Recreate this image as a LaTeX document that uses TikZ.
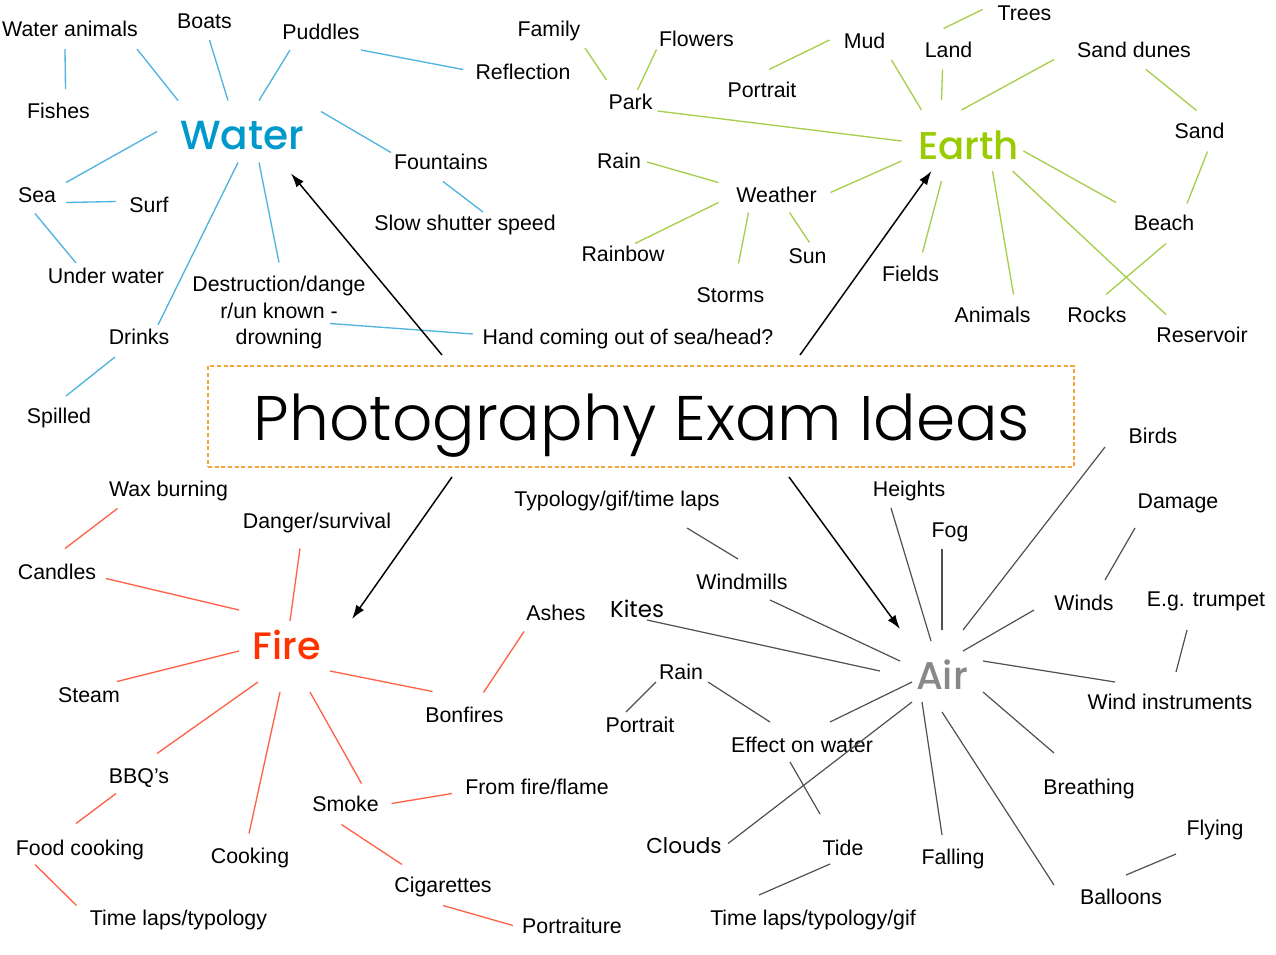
\documentclass[tikz,border=0pt]{standalone}
\usepackage{fontspec}
\setmainfont{Liberation Sans}
\newfontfamily\gothic{Poppins}
\IfFontExistsTF{Poppins Medium}{\newfontfamily\gothicm{Poppins Medium}}{\newfontfamily\gothicm{Poppins}[FakeBold=1.2]}
\IfFontExistsTF{Poppins Light}{\newfontfamily\gothiclight{Poppins Light}}{%
  \IfFontExistsTF{Poppins ExtraLight}{\newfontfamily\gothiclight{Poppins ExtraLight}}{%
    \IfFontExistsTF{Poppins Thin}{\newfontfamily\gothiclight{Poppins Thin}}{\newfontfamily\gothiclight{Poppins}}}}
\usetikzlibrary{arrows.meta}
\definecolor{waterc}{HTML}{0099CC}
\definecolor{wline}{HTML}{4FB4DE}
\definecolor{earthc}{HTML}{99CC00}
\definecolor{eline}{HTML}{A5CF4C}
\definecolor{firec}{HTML}{FF3300}
\definecolor{fline}{HTML}{FF6347}
\definecolor{airc}{HTML}{888888}
\definecolor{aline}{HTML}{505050}
\definecolor{boxc}{HTML}{F4A53A}
\newcommand\lk[5]{\draw[#1] ([shift={(#3)}]#2.center) -- ([shift={(#5)}]#4.center);}
\tikzset{
  lab/.style={font=\fontsize{16pt}{19.9pt}\selectfont, inner sep=0pt, text height=11.5pt, text depth=0pt},
  mlab/.style={font=\fontsize{16pt}{19.9pt}\selectfont, inner sep=0pt, align=center},
  big/.style={inner sep=0pt, text height=23.5pt, text depth=0pt},
  goth/.style={inner sep=0pt, text height=12.5pt, text depth=0pt},
  wl/.style={draw=wline, line width=1pt},
  el/.style={draw=eline, line width=1pt},
  fl/.style={draw=fline, line width=1pt},
  al/.style={draw=aline, line width=0.9pt},
  arr/.style={-{Latex[length=10.5pt,width=7pt]}, line width=1.1pt, draw=black},
  tbox/.style={draw=boxc, dash pattern=on 3pt off 2pt, line width=1.1pt, minimum width=649.5pt, minimum height=75.75pt, inner sep=0pt}
}
\begin{document}
\begin{tikzpicture}[x=0.75pt,y=-0.75pt]
\fill[white] (0,0) rectangle (1276,954);
\useasboundingbox (0,0) rectangle (1276,954);

% title
\node[tbox] (title) at (641,416.5) {};
\node[inner sep=0pt, text height=34.5pt, text depth=0pt] (ttext) at (642,417) {\resizebox{582pt}{!}{\gothiclight Photography Exam Ideas}};

% element words
\node[big, text=waterc] (water) at (242,133.5) {\resizebox{93pt}{!}{\gothicm Water}};
\node[big, text=earthc] (earth) at (968.5,144) {\resizebox{75.75pt}{!}{\gothicm Earth}};
\node[big, text=firec] (fire) at (287,644) {\resizebox{51pt}{!}{\gothicm Fire}};
\node[big, text=airc] (air) at (942,674) {\resizebox{39pt}{!}{\gothicm Air}};

% water labels
\node[lab] (wanim) at (70,29) {Water animals};
\node[lab] (boats) at (204.5,21) {Boats};
\node[lab] (puddles) at (321,32) {Puddles};
\node[lab] (family) at (549,29) {Family};
\node[lab] (reflection) at (523,71.5) {Reflection};
\node[lab] (fishes) at (58.5,111) {Fishes};
\node[lab] (fountains) at (441,161.5) {Fountains};
\node[lab] (sea) at (37,194.5) {Sea};
\node[lab] (surf) at (149,204.5) {Surf};
\node[lab] (slow) at (465,223) {Slow shutter speed};
\node[lab] (underw) at (106,276) {Under water};
\node[mlab] (destr) at (279,312.5) {Destruction/dange\\r/un known -\\drowning};
\node[lab] (drinks) at (139,337) {Drinks};
\node[lab] (hand) at (628,337) {Hand coming out of sea/head?};
\node[lab] (spilled) at (59,416) {Spilled};

% earth labels
\node[lab] (trees) at (1024.5,12.5) {Trees};
\node[lab] (flowers) at (696.5,38.5) {Flowers};
\node[lab] (mud) at (864.5,41) {Mud};
\node[lab] (land) at (948.5,49.5) {Land};
\node[lab] (sanddunes) at (1134,49.5) {Sand dunes};
\node[lab] (portraite) at (762,89.5) {Portrait};
\node[lab] (park) at (630.5,102) {Park};
\node[lab] (sand) at (1199.5,130.5) {Sand};
\node[lab] (raine) at (619,161) {Rain};
\node[lab] (weather) at (776.5,194.5) {Weather};
\node[lab] (beach) at (1164,222.5) {Beach};
\node[lab] (rainbow) at (623,253.5) {Rainbow};
\node[lab] (sun) at (807.5,255.5) {Sun};
\node[lab] (fields) at (910.5,273.5) {Fields};
\node[lab] (storms) at (730.5,294.5) {Storms};
\node[lab] (animals) at (992.5,314.5) {Animals};
\node[lab] (rocks) at (1097,314.5) {Rocks};
\node[lab] (reservoir) at (1202,334.5) {Reservoir};

% fire labels
\node[lab] (wax) at (168.5,488.5) {Wax burning};
\node[lab] (danger) at (317,520.5) {Danger/survival};
\node[lab] (candles) at (57,571.5) {Candles};
\node[lab] (ashes) at (556,612.5) {Ashes};
\node[lab] (steam) at (89,694.5) {Steam};
\node[lab] (bonfires) at (464.5,714.5) {Bonfires};
\node[lab] (bbq) at (139,775.5) {BBQ’s};
\node[lab] (fromfire) at (537,786.5) {From fire/flame};
\node[lab] (smoke) at (345.5,803.5) {Smoke};
\node[lab] (foodc) at (80,847.5) {Food cooking};
\node[lab] (cooking) at (250,855.5) {Cooking};
\node[lab] (cigs) at (443,884.5) {Cigarettes};
\node[lab] (tlt) at (178.5,917.5) {Time laps/typology};
\node[lab] (portraiture) at (572,925.5) {Portraiture};

% air labels
\node[lab] (birds) at (1153,436) {Birds};
\node[lab] (heights) at (909,489) {Heights};
\node[lab] (typo) at (617,499) {Typology/gif/time laps};
\node[lab] (damage) at (1178,501) {Damage};
\node[lab] (fog) at (950,530) {Fog};
\node[lab] (windmills) at (742,582) {Windmills};
\node[lab] (winds) at (1084,603) {Winds};
\node[lab] (egt) at (1206,599) {E.g. trumpet};
\node[goth] (kites) at (637,609) {\resizebox{40.5pt}{!}{\gothic Kites}};
\node[lab] (raina) at (681,672) {Rain};
\node[lab] (windinst) at (1170,702) {Wind instruments};
\node[lab] (portraita) at (640,725) {Portrait};
\node[lab] (effect) at (802,745) {Effect on water};
\node[lab] (breathing) at (1089,787) {Breathing};
\node[lab] (flying) at (1215,828) {Flying};
\node[goth] (clouds) at (684,845.5) {\resizebox{56.5pt}{!}{\gothic Clouds}};
\node[lab] (tide) at (843,848) {Tide};
\node[lab] (falling) at (953,857) {Falling};
\node[lab] (balloons) at (1121,897) {Balloons};
\node[lab] (tlgif) at (813,918) {Time laps/typology/gif};

% water links
\lk{wl}{wanim}{-5,20}{fishes}{7,-22}
\lk{wl}{wanim}{67,20}{water}{-64,-33}
\lk{wl}{boats}{5,19}{water}{-14,-33}
\lk{wl}{puddles}{-31,18}{water}{17,-33}
\lk{wl}{puddles}{40,18}{reflection}{-60,-2}
\lk{wl}{water}{79,-22}{fountains}{-50,-9}
\lk{wl}{fountains}{2,20}{slow}{18,-11}
\lk{wl}{water}{-85,-2}{sea}{29,-12}
\lk{wl}{sea}{29,8}{surf}{-33,-3}
\lk{wl}{sea}{-2,19}{underw}{-30,-13}
\lk{wl}{water}{-4,29}{drinks}{19,-12}
\lk{wl}{water}{17,29}{destr}{0,-50}
\lk{wl}{destr}{51,11}{hand}{-155,-3}
\lk{wl}{drinks}{-24,20}{spilled}{7,-20}

% earth links
\lk{el}{family}{36,19}{park}{-24,-22}
\lk{el}{trees}{-42,-3}{land}{-5,-21}
\lk{el}{flowers}{-40,11}{park}{7,-12}
\lk{el}{mud}{-35,-1}{portraite}{7,-20}
\lk{el}{mud}{27,19}{earth}{-47,-34}
\lk{el}{land}{-6,20}{earth}{-27,-44}
\lk{el}{sanddunes}{-80,10}{earth}{-7,-34}
\lk{el}{sanddunes}{12,20}{sand}{-3,-20}
\lk{el}{park}{27,9}{earth}{-67,-3}
\lk{el}{sand}{8,21}{beach}{23,-19}
\lk{el}{earth}{55,7}{beach}{-48,-20}
\lk{el}{raine}{28,1}{weather}{-58,-12}
\lk{el}{earth}{-67,17}{weather}{54,-2}
\lk{el}{weather}{-58,8}{rainbow}{12,-10}
\lk{el}{weather}{-28,18}{storms}{8,-31}
\lk{el}{weather}{13,18}{sun}{2,-13}
\lk{el}{earth}{-27,37}{fields}{12,-21}
\lk{el}{earth}{24,27}{animals}{21,-20}
\lk{el}{earth}{44,27}{reservoir}{-36,-20}
\lk{el}{beach}{2,21}{rocks}{9,-20}

% fire links
\lk{fl}{wax}{-51,20}{candles}{8,-23}
\lk{fl}{candles}{49,7}{fire}{-48,-34}
\lk{fl}{danger}{-17,28}{fire}{3,-23}
\lk{fl}{fire}{-48,7}{steam}{28,-13}
\lk{fl}{fire}{-29,38}{bbq}{18,-22}
\lk{fl}{fire}{-7,48}{cooking}{-1,-22}
\lk{fl}{fire}{23,48}{smoke}{16,-20}
\lk{fl}{fire}{43,27}{bonfires}{-32,-23}
\lk{fl}{ashes}{-32,19}{bonfires}{19,-22}
\lk{fl}{bbq}{-23,18}{foodc}{-4,-24}
\lk{fl}{foodc}{-45,17}{tlt}{-102,-12}
\lk{fl}{smoke}{46,0}{fromfire}{-85,7}
\lk{fl}{smoke}{-4,21}{cigs}{-41,-20}
\lk{fl}{cigs}{0,21}{portraiture}{-59,0}

% air links
\lk{al}{typo}{70,29}{windmills}{-4,-23}
\lk{al}{heights}{-18,19}{air}{-11,-33}
\lk{al}{fog}{-8,19}{air}{0,-44}
\lk{al}{birds}{-48,11}{air}{21,-44}
\lk{al}{damage}{-43,27}{winds}{21,-23}
\lk{al}{winds}{-50,7}{air}{21,-23}
\lk{al}{windmills}{28,18}{air}{-42,-13}
\lk{al}{kites}{10,11}{air}{-62,-3}
\lk{al}{egt}{-19,31}{windinst}{6,-30}
\lk{al}{air}{41,-13}{windinst}{-55,-20}
\lk{al}{raina}{-25,10}{portraita}{-14,-13}
\lk{al}{raina}{27,10}{effect}{-32,-23}
\lk{al}{air}{-30,8}{effect}{28,-23}
\lk{al}{air}{-30,28}{clouds}{44,-2}
\lk{al}{effect}{-12,17}{tide}{-23,-34}
\lk{al}{air}{-20,28}{falling}{-11,-22}
\lk{al}{air}{0,38}{balloons}{-67,-12}
\lk{al}{air}{41,18}{breathing}{-35,-34}
\lk{al}{flying}{-39,26}{balloons}{5,-22}
\lk{al}{tide}{-13,16}{tlgif}{-54,-23}

% arrows from the title
\draw[arr] ([shift={(-199,-61.5)}]title.center) -- ([shift={(49,40)}]water.center);
\draw[arr] ([shift={(159,-61.5)}]title.center) -- ([shift={(-37,27)}]earth.center);
\draw[arr] ([shift={(-189,60.5)}]title.center) -- ([shift={(65,-25)}]fire.center);
\draw[arr] ([shift={(148,60.5)}]title.center) -- ([shift={(-42,-45)}]air.center);
\end{tikzpicture}
\end{document}
